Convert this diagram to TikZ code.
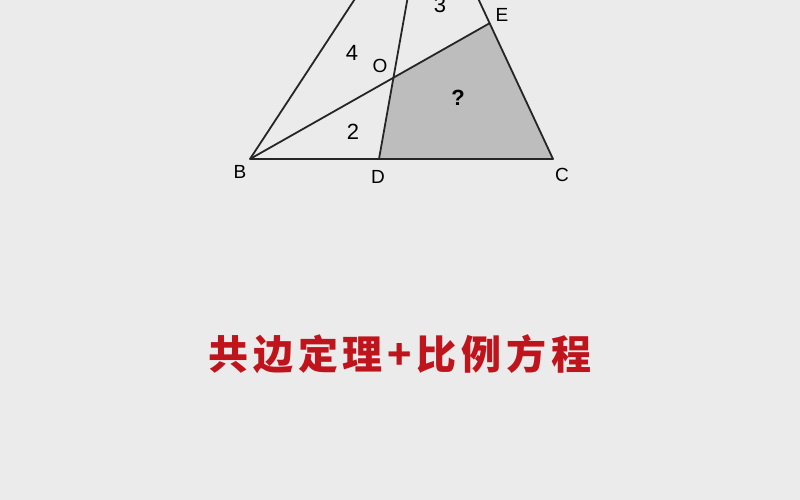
\documentclass[tikz,border=0pt]{standalone}
\usepackage{fontspec}
\setmainfont{Liberation Sans}
\newfontfamily\cjk[LetterSpace=12]{Noto Sans CJK SC}
\usepackage{tikz}

\definecolor{bgray}{HTML}{EBEBEB}
\definecolor{areagray}{HTML}{BDBDBD}
\definecolor{titlered}{HTML}{C0141C}

\tikzset{
  edge/.style={line width=1.8pt, black!85},
  pt/.style={font=\fontsize{19}{19}\selectfont, inner sep=0pt},
  area/.style={font=\fontsize{22}{22}\selectfont, inner sep=0pt}
}

\begin{document}
\begin{tikzpicture}[x=1pt,y=-1pt]
  \fill [bgray] (0,0) rectangle (800,500);
  \useasboundingbox (0,0) rectangle (800,500);
  \clip (0,0) rectangle (800,500);
  % points of the triangle
  \coordinate (A) at (427,-111);
  \coordinate (B) at (250,159);
  \coordinate (C) at (553,159);
  \coordinate (D) at (379,159);
  \coordinate (E) at (490,23);
  \coordinate (O) at (393,77);
  \fill [areagray] (O) -- (D) -- (C) -- (E) -- cycle;
  \draw [edge, line join=round] (A) -- (B) -- (C) -- cycle;
  \draw [edge] (A) -- (D);
  \draw [edge] (B) -- (E);
  \node [pt] (lB) at (240,172) {B};
  \node [pt] (lD) at (378,177) {D};
  \node [pt] (lC) at (562,175) {C};
  \node [pt] (lE) at (502,15) {E};
  \node [pt] (lO) at (380,66) {O};
  \node [area] (a3) at (440,5) {3};
  \node [area] (a4) at (352,53) {4};
  \node [area] (a2) at (353,132) {2};
  \node [area, font=\fontsize{22}{22}\selectfont\bfseries] (aq) at (458,98) {?};
  \node [text=titlered, inner sep=0pt, font=\cjk\fontsize{40}{40}\selectfont\bfseries]
    (title) at (400,354) {共边定理+比例方程};
\end{tikzpicture}
\end{document}
